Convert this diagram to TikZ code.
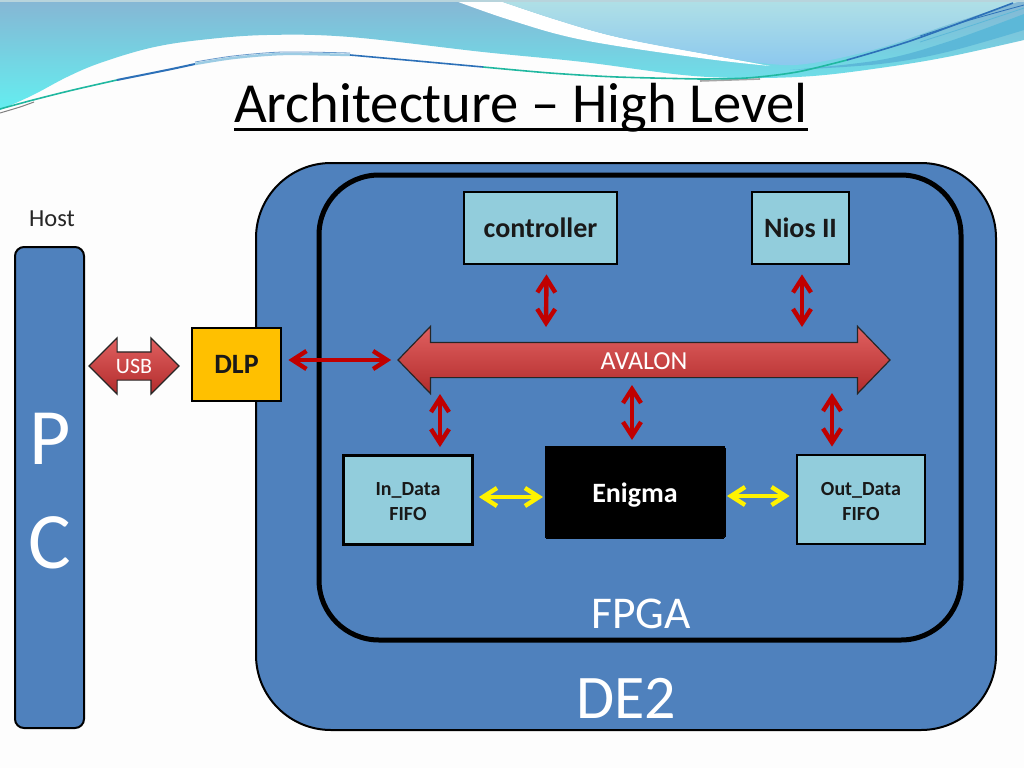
\documentclass[tikz,border=0pt]{standalone}
\usepackage{fontspec}
\setmainfont{Carlito}
\usetikzlibrary{shapes.arrows,arrows.meta,calc}
\definecolor{blockblue}{HTML}{4F81BD}
\definecolor{lightbox}{HTML}{92CDDC}
\definecolor{darkred}{HTML}{C00000}
\definecolor{amber}{HTML}{FFC000}
\definecolor{pagebg}{HTML}{FDFDFD}
\definecolor{waveTop}{HTML}{86B6D4}
\definecolor{waveMid}{HTML}{72CCE0}
\definecolor{waveBot}{HTML}{64EEF0}
\definecolor{lightTop}{HTML}{B0E0E6}
\definecolor{lightBot}{HTML}{8CC8EE}
\definecolor{stripGrey}{HTML}{B8D4DC}
\definecolor{bandBlue}{HTML}{5CB8D8}
\definecolor{lineBlue}{HTML}{2C70B8}
\definecolor{linePale}{HTML}{9CCCE4}
\definecolor{lineTeal}{HTML}{20B8A0}
\definecolor{arrowTop}{HTML}{E06060}
\definecolor{arrowBot}{HTML}{B22C2C}
\tikzset{
  x=1pt,y=-1pt,
  roundpanel/.style={draw=black,fill=blockblue,line width=2pt,rounded corners=#1},
  lightblock/.style={draw=black,fill=lightbox,line width=2.8pt,rectangle,inner sep=0pt,align=center,font=\fontsize{20}{25}\selectfont\bfseries,text=black!90},
  barrow/.style={shape=double arrow,draw=black!85,line width=1.2pt,top color=arrowTop,bottom color=arrowBot,inner sep=0pt,text=white,
    double arrow head indent=0pt},
  redlink/.style={line width=4.4pt,draw=darkred,{Straight Barb[length=14pt,width=18pt,line width=4.4pt]}-{Straight Barb[length=14pt,width=18pt,line width=4.4pt]}},
  yellowlink/.style={line width=4.4pt,draw=yellow,{Straight Barb[length=14pt,width=18pt,line width=4.4pt]}-{Straight Barb[length=14pt,width=18pt,line width=4.4pt]}},
  plain/.style={inner sep=0pt,text=white},
  bigbold/.style={font=\fontsize{28}{30}\selectfont\bfseries},
}
\newsavebox{\titlebox}
\begin{document}
\begin{tikzpicture}
\useasboundingbox (0,0) rectangle (1024,768);
\fill[pagebg] (0,0) rectangle (1024,768);
% header swooshes
\shade[top color=waveTop,middle color=waveMid,bottom color=waveBot]
  (0,0) -- (1024,0) -- plot[smooth,tension=0.6] coordinates {(1024,40) (947,57) (880,68) (813,76) (747,78) (683,75) (583,62) (483,52) (350,37) (267,35) (200,40) (150,48) (100,63) (67,77) (33,95) (0,110)} -- cycle;
\fill[white] plot[smooth,tension=0.6] coordinates {(453,0) (510,20) (583,40) (700,58) (770,66)}
  -- plot[smooth,tension=0.6] coordinates {(770,66) (700,53) (617,37) (557,20) (497,0)} -- cycle;
\fill[bandBlue] plot[smooth,tension=0.6] coordinates {(790,70) (880,60) (947,42) (1024,14)} -- (1024,30)
  -- plot[smooth,tension=0.6] coordinates {(1024,30) (947,52) (880,64) (790,70)} -- cycle;
\shade[top color=lightTop,bottom color=lightBot]
  plot[smooth,tension=0.6] coordinates {(497,0) (557,20) (617,37) (700,53) (770,64) (813,63) (880,48) (947,25) (1024,0)} -- cycle;
\fill[stripGrey] (0,0) rectangle (1024,2.5);
\draw[line width=1.6pt,draw=lineTeal] plot[smooth] coordinates {(0,109) (33,100) (73,90) (117,80)};
\draw[line width=1pt,draw=gray] plot[smooth] coordinates {(0,113) (20,107) (34,102)};
\draw[line width=2pt,draw=lineBlue] plot[smooth] coordinates {(117,80) (167,70) (195,64)};
\draw[line width=2.5pt,draw=linePale] plot[smooth] coordinates {(195,64) (233,58) (283,54) (350,55)};
\draw[line width=0.8pt,draw=lineBlue!70] plot[smooth] coordinates {(195,62) (233,56) (283,52) (350,53)};
\draw[line width=1.6pt,draw=lineBlue] plot[smooth] coordinates {(350,55) (417,61) (483,67)};
\draw[line width=1.6pt,draw=lineTeal] plot[smooth] coordinates {(483,67) (550,73) (617,77) (700,79)};
\draw[line width=1.6pt,draw=gray!70] (700,81) -- (760,79);
\draw[line width=1.6pt,draw=lineTeal] plot[smooth] coordinates {(700,79) (747,78) (797,72) (847,60)};
\draw[line width=1.6pt,draw=lineBlue] plot[smooth] coordinates {(847,60) (913,40) (1013,3)};
\draw[line width=0.8pt,draw=lineBlue] plot[smooth] coordinates {(920,36) (970,20) (1024,5)};
\draw[line width=0.8pt,draw=bandBlue] plot[smooth] coordinates {(920,42) (970,26) (1024,8)};
% panels
\node[plain,text=black!85,font=\fontsize{24.5}{26}\selectfont] (host) at (52,219) {Host};
\draw[roundpanel=9pt] (15,247) rectangle (84,728);
\node[plain,font=\fontsize{80}{84}\selectfont] (p) at (50,439) {P};
\node[plain,font=\fontsize{80}{84}\selectfont] (c) at (50,543) {C};
\draw[roundpanel=75pt] (256,163) rectangle (996,730);
\draw[black,line width=5pt,rounded corners=60pt] (319,175) rectangle (961,640);
\node[plain,font=\fontsize{45.5}{48}\selectfont] (fpga) at (641,614) {FPGA};
\node[plain,font=\fontsize{62}{64}\selectfont] (de2) at (626,698) {DE2};
% title
\node[plain,text=black,anchor=base] (title) at (521,122) {\sbox{\titlebox}{\fontsize{56.6}{60}\selectfont Architecture – High Level}\rlap{\rule[-9pt]{\wd\titlebox}{3.5pt}}\usebox{\titlebox}};
% blocks
\node[lightblock,bigbold,minimum width=153pt,minimum height=72pt] (ctrl) at (540.5,228) {controller};
\node[lightblock,bigbold,minimum width=97pt,minimum height=72pt] (nios) at (800.5,228) {Nios II};
\node[lightblock,bigbold,fill=amber,minimum width=89pt,minimum height=73pt] (dlp) at (236.5,364.5) {DLP};
\node[lightblock,minimum width=129pt,minimum height=89pt] (indata) at (408,500) {\rule{0pt}{17pt}In\_Data\\FIFO};
\node[lightblock,minimum width=128pt,minimum height=89pt] (outdata) at (861,499.5) {\rule{0pt}{17pt}Out\_Data\\FIFO};
\node[draw=black,fill=black,line width=0pt,rounded corners=2pt,inner sep=0pt,minimum width=180pt,minimum height=92pt,text=white,bigbold] (enigma) at (635,492) {\rule{0pt}{25pt}Enigma};
% block arrows
\node[barrow,minimum height=492pt,minimum width=66pt,double arrow head extend=16pt,double arrow tip angle=92,font=\fontsize{26}{28}\selectfont] (avalon) at (644,360) {\rule[-17pt]{0pt}{34pt}\raisebox{-9pt}{AVALON}};
\node[barrow,minimum height=90pt,minimum width=55pt,double arrow head extend=14pt,double arrow tip angle=90,font=\fontsize{22}{24}\selectfont] (usb) at (134,366) {\rule[-13.5pt]{0pt}{27pt}\raisebox{-7pt}{USB}};
% connectors
\draw[redlink] ([shift={(6,9)}]ctrl.south) -- ([shift={(-98,-33)}]avalon.center);
\draw[redlink] ([shift={(1.5,9)}]nios.south) -- ([shift={(158,-33)}]avalon.center);
\draw[redlink] ([shift={(-204,34)}]avalon.center) -- ([shift={(32,-7)}]indata.north);
\draw[redlink] ([shift={(-12,25)}]avalon.center) -- ([shift={(-3,-6)}]enigma.north);
\draw[redlink] ([shift={(188,33)}]avalon.center) -- ([shift={(-29,-7)}]outdata.north);
\draw[redlink] ([shift={(6,-4.5)}]dlp.east) -- ([shift={(-6,0)}]avalon.west);
\draw[yellowlink] ([shift={(5,-3)}]indata.east) -- ([shift={(-2,5)}]enigma.west);
\draw[yellowlink] ([shift={(2,4)}]enigma.east) -- ([shift={(-6,-3.5)}]outdata.west);
\end{tikzpicture}
\end{document}
